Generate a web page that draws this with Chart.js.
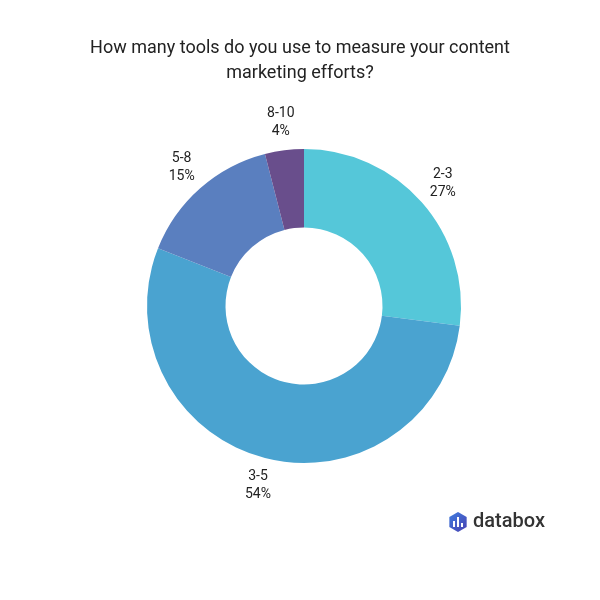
<!DOCTYPE html>
<html>
<head>
<meta charset="utf-8">
<script src="https://cdn.jsdelivr.net/npm/chart.js@4"></script>
<style>
  html, body { margin: 0; background: #fff; }
  #wrap { width: 600px; height: 600px; }
</style>
</head>
<body>
<div id="wrap"><canvas id="chart" width="600" height="600"></canvas></div>
<script>
const categories = ['2-3', '3-5', '5-8', '8-10'];
const shares     = [27, 54, 15, 4];
const colors     = ['#55c7d9', '#4aa3d0', '#5a7fbf', '#694e8c'];
const titleLines = ['How many tools do you use to measure your content', 'marketing efforts?'];

// Title, outside labels and the databox mark
const decorations = {
    id: 'decorations',
    afterDraw(chart) {
        const ctx = chart.ctx;
        ctx.save();
        ctx.fillStyle = '#222';
        ctx.textAlign = 'center';
        ctx.textBaseline = 'middle';
        ctx.font = '18px Roboto';
        titleLines.forEach((t, i) => ctx.fillText(t, 300, 48 + i * 25));

        ctx.font = '14px Roboto';
        chart.getDatasetMeta(0).data.forEach((arc, i) => {
            const mid = (arc.startAngle + arc.endAngle) / 2;
            const r = arc.outerRadius + 28;
            const x = arc.x + r * Math.cos(mid);
            const y = arc.y + r * Math.sin(mid);
            ctx.fillText(categories[i], x, y - 9);
            ctx.fillText(shares[i] + '%', x, y + 9);
        });

        // logo hexagon
        const cx = 458, cy = 522, s = 10;
        const g = ctx.createLinearGradient(cx - s, cy - s, cx + s, cy + s);
        g.addColorStop(0, '#3f7fe0');
        g.addColorStop(1, '#4a3fb0');
        ctx.fillStyle = g;
        ctx.beginPath();
        for (let k = 0; k < 6; k++) {
            const a = Math.PI / 6 + k * Math.PI / 3 - Math.PI / 2 + Math.PI / 6;
            const px = cx + s * Math.cos(a), py = cy + s * Math.sin(a);
            k ? ctx.lineTo(px, py) : ctx.moveTo(px, py);
        }
        ctx.closePath();
        ctx.fill();
        ctx.fillStyle = '#fff';
        ctx.fillRect(cx - 5, cy - 1, 2, 6);
        ctx.fillRect(cx - 1, cy - 5, 2, 10);
        ctx.fillRect(cx + 3, cy + 1, 2, 4);

        ctx.fillStyle = '#333';
        ctx.textAlign = 'left';
        ctx.font = '500 20px Roboto';
        ctx.fillText('databox', 473, 522);
        ctx.restore();
    }
};

new Chart(document.getElementById('chart'), {
    type: 'doughnut',
    data: {
        labels: categories,
        datasets: [{
            data: shares,
            backgroundColor: colors,
            borderWidth: 0,
        }],
    },
    options: {
        responsive: false,
        animation: false,
        cutout: '50%',
        layout: { padding: { left: 147, right: 139, top: 149, bottom: 137 } },
        plugins: {
            legend: { display: false },
            tooltip: { enabled: false },
        },
    },
    plugins: [decorations],
});
</script>
</body>
</html>
